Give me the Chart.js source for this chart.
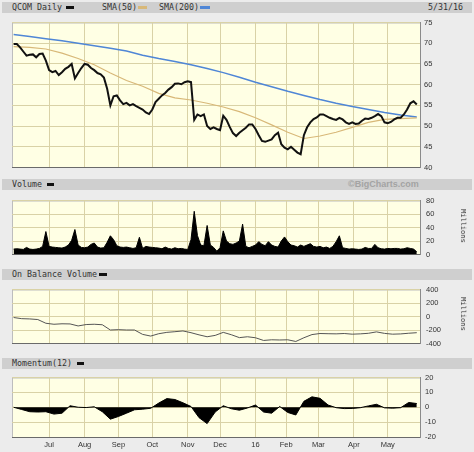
<!DOCTYPE html>
<html>
<head>
<meta charset="utf-8">
<script src="https://cdn.jsdelivr.net/npm/chart.js@4.4.0/dist/chart.umd.min.js"></script>
<style>
  body { margin: 0; width: 474px; height: 452px; background: #ececec; position: relative; overflow: hidden; }
  .bar { position: absolute; left: 2px; width: 470px; height: 11px; background: #cfcfcf;
         font: 8.3px "DejaVu Sans Mono", monospace; line-height: 11px; color: #333; }
  .bar span { position: absolute; top: 0; white-space: nowrap; }
  .bar i { position: absolute; top: 4px; height: 3px; }
  .copy { font: bold 9px "Liberation Sans", sans-serif !important; color: #a3a3a3; line-height: 11px; }
  canvas { position: absolute; left: 0; }
  .mil { position: absolute; font: 7px "DejaVu Sans Mono", monospace; color: #333;
         transform: translate(-50%, -50%) rotate(90deg); white-space: nowrap; }
</style>
</head>
<body>
<div class="bar" style="top:2px">
  <span style="left:10px">QCOM Daily</span><i style="left:64px;width:8px;background:#111"></i>
  <span style="left:100px">SMA(50)</span><i style="left:136px;width:9px;background:#d8b878"></i>
  <span style="left:157px">SMA(200)</span><i style="left:198px;width:10px;background:#4f86d6"></i>
  <span style="right:9px">5/31/16</span>
</div>
<canvas id="priceChart" width="474" height="162" style="top:14px"></canvas>

<div class="bar" style="top:179px">
  <span style="left:10px">Volume</span><i style="left:45px;width:7px;background:#111"></i>
  <span class="copy" style="left:346px">&copy;BigCharts.com</span>
</div>
<canvas id="volumeChart" width="474" height="75" style="top:190px"></canvas>
<div class="mil" style="left:463px;top:226px">Millions</div>

<div class="bar" style="top:269px">
  <span style="left:10px">On Balance Volume</span><i style="left:97px;width:8px;background:#111"></i>
</div>
<canvas id="obvChart" width="474" height="75" style="top:279px"></canvas>
<div class="mil" style="left:463px;top:314px">Millions</div>

<div class="bar" style="top:358px">
  <span style="left:10px">Momentum(12)</span><i style="left:75px;width:7px;background:#111"></i>
</div>
<canvas id="momChart" width="474" height="84" style="top:368px"></canvas>

<script>
// trading-day index of each month start (Jun 1 2015 = 0)
const monthStarts = [22, 44, 65, 86, 108, 128, 150, 169, 189, 211, 232];
const monthLabels = ['Jul', 'Aug', 'Sep', 'Oct', 'Nov', 'Dec', '16', 'Feb', 'Mar', 'Apr', 'May'];

// QCOM close, every 2 trading days
const priceClose = [
  69.8, 69.8, 69.0, 68.0, 67.0, 67.2,
  67.3, 66.6, 67.4, 67.5, 65.8, 63.5, 63.0, 63.3, 62.3, 63.0, 63.8, 64.3, 65.0, 61.5,
  62.8, 64.0, 65.0, 64.8, 64.0, 63.5, 62.8, 62.5, 61.7, 59.0, 55.0, 57.2, 57.4, 56.2,
  55.3, 55.6, 55.0, 55.3, 54.8, 54.4, 54.0, 53.3, 52.9, 54.0,
  55.8, 56.6,
  57.4, 58.0, 58.8, 59.4, 60.2, 60.3, 60.1, 60.6, 60.8, 60.6, 51.5, 52.8, 52.4, 52.8,
  50.0, 49.3, 49.7, 49.3, 49.0, 52.5, 51.5, 49.8, 48.3, 47.6, 48.4, 49.0, 49.6, 50.4,
  50.4, 49.3, 47.8, 46.4, 46.2, 46.5, 46.8, 47.8, 48.4, 45.6,
  44.8, 44.4,
  45.0, 44.3, 43.6, 43.2, 47.8, 49.7, 50.9, 51.7, 52.1, 52.8, 52.8, 52.4, 52.0, 51.7,
  51.5, 52.0, 51.6, 50.9, 50.5, 50.9, 50.5, 50.6, 51.3, 51.8, 51.7, 52.0, 52.4, 52.9,
  52.4, 50.9, 50.7, 51.0, 51.6, 52.0, 52.0, 52.8, 54.0, 55.5, 56.0,
  55.2
];

// moving averages, every 10 trading days
const sma50 = [69.2, 69.0, 68.6, 67.6, 66.3, 64.8, 62.8, 61.0, 59.6, 57.9, 56.8, 56.3, 55.5,
               54.6, 53.5, 52.0, 50.3, 48.5, 47.0, 47.6, 48.5, 49.7, 50.9, 51.6, 51.8, 52.0];
const sma200 = [72.1, 71.6, 71.1, 70.6, 70.0, 69.4, 68.8, 68.1, 67.1, 66.3, 65.6, 64.8, 63.9,
                62.9, 61.8, 60.6, 59.5, 58.4, 57.4, 56.4, 55.5, 54.7, 54.0, 53.3, 52.7, 52.2];

// volume in millions, every 2 trading days
const volumeM = [
  8, 8.5, 8, 7.5, 10.5, 8, 7.5, 8, 9, 12, 34, 12, 11, 10.5, 10, 9.5, 11, 14, 21, 37,
  14, 10.5, 10, 11, 15, 17, 11, 9.5, 10, 18, 27.7, 22, 13, 11, 10.5, 11, 10, 9, 10, 25.5,
  9, 12, 11, 10.5, 10, 9.5, 8.5, 11, 9, 8, 10, 8.5, 9, 8, 7.5, 22, 64, 28, 14, 13,
  43, 14, 10.5, 5, 10, 35, 20, 16, 15, 17, 20, 45, 12, 10, 12, 14, 19, 15, 13, 19,
  14, 12, 11, 20, 26, 19, 14, 13, 11, 14, 12, 14, 16, 12, 11, 12, 10, 11, 9, 12,
  19, 27.7, 10, 9, 8, 8.5, 8, 7.5, 8, 10.5, 9, 9, 15, 10, 8.5, 8, 9, 8.5, 9, 9,
  8, 8.5, 10, 9, 8, 4
];

// on balance volume in millions, every 5 trading days
const obvM = [
  -15, -32, -36, -45, -100, -115, -108, -110, -140, -119, -115, -122, -200, -195, -200,
  -200, -265, -290, -255, -235, -225, -214, -240, -272, -300, -280, -235, -270, -313, -300,
  -315, -355, -345, -348, -345, -370, -315, -268, -252, -255, -257, -252, -262, -257, -249,
  -228, -250, -262, -258, -248, -240
];

// 12-day momentum, every 5 trading days
const momentum12 = [
  0, -1.5, -3.0, -3.2, -3.0, -4.6, -4.0, 1.0, 0, -0.2, 0.3, -3.0, -8.0, -6.2, -4.0,
  -1.7, -1.3, -0.7, 2.8, 5.8, 5.2, 3.0, 0.5, -7.0, -11.0, -3.2, 1.0, -1.0, -2.0, -0.5,
  1.5, -3.2, -4.0, 0.5, -3.5, -5.2, 4.0, 7.0, 6.0, 1.5, -0.3, -0.9, -0.8, -0.3, 0.9,
  2.0, -0.4, -0.6, -0.3, 3.2, 2.5
];

function points(values, step) {
  return values.map((v, i) => ({ x: i * step, y: v }));
}

const gridColor = '#d9d2a6';
const tickFont = { family: 'Liberation Sans', size: 7.5 };

const plotBg = {
  id: 'plotBg',
  beforeDraw(chart) {
    const a = chart.chartArea, ctx = chart.ctx;
    ctx.save();
    ctx.fillStyle = '#ffffe4';
    ctx.fillRect(a.left, a.top, a.width, a.height);
    ctx.strokeStyle = '#bdbdbd';
    ctx.lineWidth = 1;
    ctx.beginPath();
    ctx.moveTo(a.left + 0.5, a.bottom);
    ctx.lineTo(a.left + 0.5, a.top + 0.5);
    ctx.lineTo(a.right, a.top + 0.5);
    ctx.stroke();
    ctx.restore();
  }
};

function makePanel(id, datasets, y, showMonths) {
  return new Chart(document.getElementById(id), {
    type: 'line',
    data: { datasets: datasets },
    options: {
      responsive: false,
      animation: false,
      events: [],
      layout: { padding: { left: 12, right: 14, top: 6, bottom: showMonths ? 0 : 7 } },
      plugins: { legend: { display: false }, tooltip: { enabled: false } },
      elements: { point: { radius: 0 }, line: { tension: 0 } },
      scales: {
        x: {
          type: 'linear', min: -1, max: 252,
          afterBuildTicks: s => { s.ticks = monthStarts.map(v => ({ value: v })); },
          afterFit: s => { s.height = showMonths ? 15 : 0; },
          ticks: {
            display: showMonths, autoSkip: false, maxRotation: 0, padding: 3,
            color: '#333', font: tickFont,
            callback: (v, i) => monthLabels[i]
          },
          grid: { color: gridColor, drawTicks: false },
          border: { color: '#6a6a6a' }
        },
        y: {
          position: 'right', min: y.min, max: y.max,
          afterFit: s => { s.width = 40; },
          ticks: { stepSize: y.step, padding: y.pad, color: '#333', font: tickFont },
          grid: { color: gridColor, drawTicks: false },
          border: { color: '#8a8a8a' }
        }
      }
    },
    plugins: [plotBg]
  });
}

makePanel('priceChart', [
  { data: points(priceClose, 2), borderColor: '#111', borderWidth: 2, order: 0 },
  { data: points(sma50, 10), borderColor: '#d8b878', borderWidth: 1.2, order: 1 },
  { data: points(sma200, 10), borderColor: '#4f86d6', borderWidth: 1.5, order: 2 }
], { min: 40, max: 75, step: 5, pad: 4 }, false);

makePanel('volumeChart', [
  { data: points(volumeM, 2), borderColor: '#000', backgroundColor: '#000', borderWidth: 1, fill: 'origin' }
], { min: 0, max: 80, step: 20, pad: 6 }, false);

makePanel('obvChart', [
  { data: points(obvM, 5), borderColor: '#555', borderWidth: 1 }
], { min: -400, max: 400, step: 200, pad: 6 }, false);

makePanel('momChart', [
  { data: points(momentum12, 5), borderColor: '#000', backgroundColor: '#000', borderWidth: 1, fill: 'origin' }
], { min: -20, max: 20, step: 10, pad: 5 }, true);
</script>
</body>
</html>
